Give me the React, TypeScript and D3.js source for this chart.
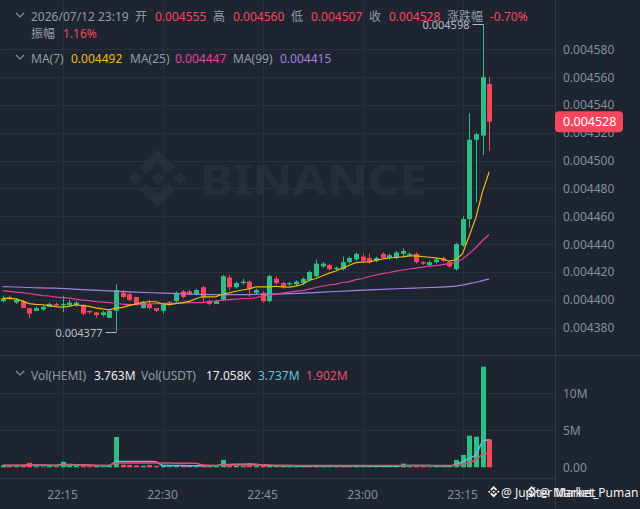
import { useEffect, useRef } from "react";
import * as d3 from "d3";

const W = 640;
const H = 509;
const PLOT_R = 555;
const MAIN_BOTTOM = 355;
const VOL_BOTTOM = 478;

const BG = "#1e2530";
const GRID = "#28303b";
const SEP = "#323a46";
const AXIS_TEXT = "#848e9c";
const LABEL = "#929aa5";
const UP = "#2ebd85";
const DOWN = "#f6465d";
const MA7_COLOR = "#f0b90b";
const MA25_COLOR = "#e23f9f";
const MA99_COLOR = "#a57de6";
const VOL_FAST_COLOR = "#5ec1d8";
const VOL_SLOW_COLOR = "#e84a6c";
const FONT = "'Noto Sans', 'Noto Sans CJK SC', sans-serif";

// one candle per minute, 22:06 .. 23:19; prices in 1e-6 USDT
const START = new Date(2026, 6, 12, 22, 6);
const open = [
  4399, 4402, 4398, 4399, 4394, 4392, 4393, 4395, 4397, 4396, 4396, 4396, 4396, 4392, 4391, 4389, 4387, 4392,
  4405, 4404, 4402, 4394, 4397, 4394, 4392, 4397, 4399, 4406, 4406, 4404, 4409, 4399, 4397, 4400, 4416, 4409,
  4412, 4413, 4405, 4405, 4399, 4415, 4412, 4411, 4411, 4412, 4414, 4417, 4424, 4425, 4422, 4422, 4427, 4429,
  4431, 4430, 4428, 4433, 4430, 4430, 4433, 4432, 4433, 4427, 4425, 4427, 4430, 4427, 4422, 4439, 4458, 4515,
  4518, 4555,
];
const high = [
  4403, 4403, 4401, 4400, 4394, 4395, 4396, 4398, 4398, 4403, 4400, 4399, 4397, 4392, 4391, 4392, 4393, 4411,
  4407, 4405, 4402, 4399, 4400, 4394, 4397, 4399, 4406, 4407, 4407, 4408, 4410, 4400, 4400, 4418, 4418, 4413,
  4415, 4414, 4408, 4406, 4418, 4417, 4413, 4413, 4414, 4416, 4421, 4429, 4427, 4426, 4424, 4431, 4431, 4434,
  4433, 4433, 4431, 4434, 4433, 4435, 4437, 4434, 4434, 4428, 4428, 4430, 4431, 4428, 4441, 4460, 4534, 4520,
  4598, 4560,
];
const low = [
  4398, 4400, 4397, 4394, 4387, 4392, 4392, 4395, 4395, 4391, 4396, 4395, 4389, 4390, 4387, 4388, 4387, 4377,
  4401, 4399, 4396, 4394, 4393, 4391, 4390, 4396, 4398, 4401, 4404, 4403, 4398, 4396, 4397, 4399, 4407, 4408,
  4411, 4402, 4404, 4398, 4398, 4411, 4408, 4410, 4410, 4411, 4413, 4416, 4423, 4421, 4421, 4421, 4426, 4428,
  4427, 4426, 4427, 4429, 4429, 4429, 4431, 4431, 4426, 4425, 4424, 4426, 4427, 4423, 4421, 4438, 4452, 4470,
  4504, 4507,
];
const close = [
  4401, 4401, 4400, 4394, 4390, 4394, 4395, 4397, 4396, 4397, 4398, 4398, 4390, 4391, 4389, 4391, 4392, 4407,
  4402, 4400, 4397, 4398, 4394, 4392, 4397, 4398, 4405, 4402, 4404, 4407, 4402, 4397, 4399, 4417, 4409, 4412,
  4413, 4408, 4407, 4399, 4417, 4412, 4409, 4412, 4413, 4415, 4420, 4426, 4426, 4422, 4423, 4427, 4430, 4433,
  4428, 4427, 4430, 4430, 4432, 4434, 4435, 4433, 4427, 4426, 4427, 4429, 4428, 4424, 4440, 4458, 4515, 4519,
  4560, 4528,
];
// volume in millions HEMI
const volume = [
  0.25, 0.2, 0.15, 0.3, 0.6, 0.15, 0.1, 0.2, 0.15, 0.75, 0.3, 0.2, 0.25, 0.15, 0.2, 0.1, 0.2, 4.1,
  0.35, 0.3, 0.25, 0.2, 0.3, 0.2, 0.25, 0.15, 0.25, 0.2, 0.2, 0.15, 0.3, 0.2, 0.15, 1.0, 0.3, 0.2,
  0.15, 0.55, 0.2, 0.3, 0.35, 0.2, 0.25, 0.1, 0.1, 0.15, 0.2, 0.3, 0.15, 0.2, 0.1, 0.25, 0.15, 0.2,
  0.15, 0.2, 0.1, 0.15, 0.1, 0.2, 0.5, 0.15, 0.25, 0.15, 0.1, 0.15, 0.1, 0.2, 1.0, 1.66, 4.27, 4.14,
  13.6, 3.763,
];

// moving averages
const ma25 = [
  4406.6, 4406.1, 4405.5, 4405.2, 4404.5, 4403.7, 4403.0, 4402.7, 4401.9, 4401.6, 4401.2, 4400.5, 4399.8,
  4399.4, 4398.7, 4398.3, 4398.0, 4397.3, 4396.9, 4396.5, 4396.5, 4396.9, 4396.9, 4397.3, 4397.3, 4397.6,
  4397.6, 4397.6, 4398.0, 4398.0, 4398.0, 4398.7, 4399.1, 4399.8, 4400.1, 4400.5, 4400.9, 4400.9, 4401.6,
  4402.7, 4403.4, 4404.1, 4404.8, 4405.5, 4406.2, 4406.6, 4407.7, 4408.8, 4409.9, 4410.6, 4411.3, 4412.4,
  4413.1, 4414.5, 4415.3, 4416.7, 4417.8, 4418.8, 4419.6, 4420.6, 4421.4, 4422.1, 4422.8, 4423.5, 4424.2,
  4424.6, 4425.3, 4426.0, 4426.8, 4429.3, 4433.2, 4437.6, 4442.6, 4446.9,
];
const ma99Index = [0, 4, 8, 12, 16, 20, 24, 28, 32, 36, 40, 44, 48, 52, 56, 60, 64, 67, 68, 69, 70, 71, 72, 73];
const ma99Value = [
  4409.5, 4408.8, 4408.3, 4407.3, 4406.4, 4405.5, 4404.8, 4404.1, 4403.7, 4403.7, 4404.1, 4404.6, 4405.5,
  4406.4, 4407.3, 4408.1, 4408.8, 4409.5, 4409.8, 4410.6, 4411.6, 4412.6, 4413.7, 4415.0,
];
const volMaFast = [
  0.25, 0.25, 0.24, 0.25, 0.32, 0.3, 0.28, 0.27, 0.26, 0.38, 0.38, 0.36, 0.34, 0.3, 0.22, 0.2, 0.2,
  0.78, 0.8, 0.8, 0.8, 0.78, 0.78, 0.75, 0.25, 0.24, 0.24, 0.23, 0.22, 0.22, 0.23, 0.22, 0.22,
  0.38, 0.38, 0.4, 0.4, 0.4, 0.4, 0.32, 0.24, 0.22, 0.2, 0.18, 0.16, 0.15, 0.16, 0.18, 0.18, 0.18,
  0.17, 0.18, 0.18, 0.18, 0.17, 0.16, 0.15, 0.15, 0.14, 0.15, 0.24, 0.24, 0.24, 0.24, 0.24, 0.18,
  0.16, 0.15, 0.35, 0.75, 1.2, 1.65, 3.55, 3.737,
];
const volMaSlow = [
  0.28, 0.28, 0.28, 0.28, 0.3, 0.3, 0.3, 0.29, 0.28, 0.32, 0.32, 0.31, 0.3, 0.3, 0.29, 0.27, 0.27,
  0.55, 0.57, 0.58, 0.58, 0.58, 0.58, 0.58, 0.58, 0.57, 0.55, 0.55, 0.55, 0.55, 0.3, 0.28, 0.25,
  0.3, 0.3, 0.31, 0.31, 0.32, 0.32, 0.3, 0.3, 0.28, 0.27, 0.27, 0.26, 0.25, 0.25, 0.25, 0.25, 0.25,
  0.25, 0.25, 0.25, 0.24, 0.24, 0.24, 0.24, 0.24, 0.24, 0.25, 0.25, 0.25, 0.25, 0.25, 0.25, 0.25,
  0.24, 0.24, 0.25, 0.35, 0.65, 1.0, 1.8, 1.902,
];

const timeTicks = ["22:15", "22:30", "22:45", "23:00", "23:15"];
const priceTicks = [4380, 4400, 4420, 4440, 4460, 4480, 4500, 4520, 4540, 4560, 4580];
const volTicks = [0, 5, 10];
const volTickLabels = ["0.00", "5M", "10M"];

const BINANCE_LOGO =
  "M38.73 53.2l24.59-24.58 24.6 24.6 14.3-14.31L63.32 0 24.42 38.9l14.31 14.3zM0 63.31l14.3-14.31 14.31 14.31-14.31 14.3L0 63.31zm38.73 10.11l24.59 24.59 24.6-24.6 14.31 14.29-38.9 38.91-38.91-38.88-.02-.02 14.33-14.29zm59.66-10.1l14.3-14.31 14.32 14.31-14.31 14.31-14.31-14.31zM77.83 63.3L63.32 48.78 52.59 59.51l-1.24 1.23-2.54 2.54-.02.02.02.03 14.51 14.5 14.51-14.52.01-.01-.01-.01z";

const fmt = (v: number) => (v / 1e6).toFixed(6);

export default function App() {
  const svgRef = useRef<SVGSVGElement>(null);

  useEffect(() => {
    if (!svgRef.current) return;
    const svg = d3.select(svgRef.current);
    svg.selectAll("*").remove();

    const parseTime = d3.timeParse("%Y-%m-%d %H:%M");
    const candles = close.map((c, i) => ({
      i,
      t: d3.timeMinute.offset(START, i),
      o: open[i],
      h: high[i],
      l: low[i],
      c,
      v: volume[i],
    }));

    const x = d3
      .scaleTime()
      .domain([START, d3.timeMinute.offset(START, candles.length - 1)])
      .range([2.5, 489.2]);
    const yP = d3.scaleLinear().domain([4380, 4580]).range([327.6, 49.3]);
    const yV = d3.scaleLinear().domain([0, 10]).range([467.3, 393.3]);
    const cx = (d: { t: Date }) => Math.round(x(d.t));

    svg.append("rect").attr("width", W).attr("height", H).attr("fill", BG);

    // watermark
    const wm = svg.append("g").attr("fill", "#272e3a");
    wm.append("path").attr("d", BINANCE_LOGO).attr("transform", "translate(128.5,149.5) scale(0.458)");
    wm.append("text")
      .attr("x", 200)
      .attr("y", 195)
      .attr("font-family", FONT)
      .attr("font-size", 42)
      .attr("font-weight", 700)
      .attr("textLength", 227)
      .attr("lengthAdjust", "spacingAndGlyphs")
      .text("BINANCE");

    // grid
    const grid = svg.append("g").attr("stroke", GRID).attr("stroke-width", 1);
    priceTicks.forEach((p) => {
      const y = Math.round(yP(p)) + 0.5;
      grid.append("line").attr("x1", 0).attr("x2", PLOT_R).attr("y1", y).attr("y2", y);
    });
    volTicks.slice(1).forEach((v) => {
      const y = Math.round(yV(v)) + 0.5;
      grid.append("line").attr("x1", 0).attr("x2", PLOT_R).attr("y1", y).attr("y2", y);
    });
    const tickDates = timeTicks.map((t) => parseTime("2026-07-12 " + t) as Date);
    tickDates.forEach((t) => {
      const xx = Math.round(x(t)) + 0.5;
      grid.append("line").attr("x1", xx).attr("x2", xx).attr("y1", 0).attr("y2", VOL_BOTTOM);
    });

    // separators
    const sep = svg.append("g").attr("stroke", SEP).attr("stroke-width", 1);
    sep.append("line").attr("x1", 0).attr("x2", W).attr("y1", MAIN_BOTTOM + 0.5).attr("y2", MAIN_BOTTOM + 0.5);
    sep.append("line").attr("x1", 0).attr("x2", PLOT_R).attr("y1", VOL_BOTTOM + 0.5).attr("y2", VOL_BOTTOM + 0.5);
    sep.append("line").attr("x1", PLOT_R + 0.5).attr("x2", PLOT_R + 0.5).attr("y1", 0).attr("y2", H);

    // volume bars
    svg.append("g")
      .selectAll("rect")
      .data(candles)
      .join("rect")
      .attr("x", (d) => cx(d) - 2)
      .attr("width", 5)
      .attr("y", (d) => yV(d.v))
      .attr("height", (d) => yV(0) - yV(d.v))
      .attr("fill", (d) => (d.c >= d.o ? UP : DOWN));

    const volLine = d3
      .line<number>()
      .x((_, i) => x(candles[i].t))
      .y((v) => yV(v));
    svg.append("path").datum(volMaFast).attr("d", volLine).attr("fill", "none").attr("stroke", VOL_FAST_COLOR).attr("stroke-width", 1.5);
    svg.append("path").datum(volMaSlow).attr("d", volLine).attr("fill", "none").attr("stroke", VOL_SLOW_COLOR).attr("stroke-width", 1.5);

    // candles
    const cg = svg.append("g");
    cg.selectAll("line")
      .data(candles)
      .join("line")
      .attr("x1", (d) => cx(d) + 0.5)
      .attr("x2", (d) => cx(d) + 0.5)
      .attr("y1", (d) => yP(d.h))
      .attr("y2", (d) => yP(d.l))
      .attr("stroke", (d) => (d.c >= d.o ? UP : DOWN))
      .attr("stroke-width", 1);
    cg.selectAll("rect")
      .data(candles)
      .join("rect")
      .attr("x", (d) => cx(d) - 2)
      .attr("width", 5)
      .attr("y", (d) => yP(Math.max(d.o, d.c)))
      .attr("height", (d) => Math.max(1, Math.abs(yP(d.o) - yP(d.c))))
      .attr("fill", (d) => (d.c >= d.o ? UP : DOWN));

    // price moving averages
    const ma7 = close.map((_, i) => d3.mean(close.slice(Math.max(0, i - 6), i + 1)) as number);
    const maLine = d3
      .line<number>()
      .x((_, i) => x(candles[i].t))
      .y((v) => yP(v));
    svg.append("path").datum(ma99Value).attr("fill", "none").attr("stroke", MA99_COLOR).attr("stroke-width", 1.2)
      .attr("d", d3.line<number>().x((_, k) => x(candles[ma99Index[k]].t)).y((v) => yP(v)).curve(d3.curveMonotoneX));
    svg.append("path").datum(ma25).attr("d", maLine).attr("fill", "none").attr("stroke", MA25_COLOR).attr("stroke-width", 1.2);
    svg.append("path").datum(ma7).attr("d", maLine).attr("fill", "none").attr("stroke", MA7_COLOR).attr("stroke-width", 1.2);

    // high / low markers
    const hiIdx = d3.maxIndex(high);
    const loIdx = d3.minIndex(low);
    const marks = svg.append("g").attr("font-family", FONT).attr("font-size", 11).attr("fill", "#b7bdc6");
    const hx = cx(candles[hiIdx]) + 0.5;
    const hy = Math.round(yP(high[hiIdx])) + 0.5;
    marks.append("line").attr("x1", hx - 11).attr("x2", hx).attr("y1", hy).attr("y2", hy).attr("stroke", "#b7bdc6");
    marks.append("text").attr("x", hx - 14).attr("y", hy + 4).attr("text-anchor", "end").text(fmt(high[hiIdx]));
    const lx = cx(candles[loIdx]) + 0.5;
    const ly = Math.round(yP(low[loIdx])) + 0.5;
    marks.append("line").attr("x1", lx - 11).attr("x2", lx).attr("y1", ly).attr("y2", ly).attr("stroke", "#b7bdc6");
    marks.append("text").attr("x", lx - 14).attr("y", ly + 4).attr("text-anchor", "end").text(fmt(low[loIdx]));

    // axes
    const ax = svg.append("g").attr("font-family", FONT).attr("font-size", 12).attr("fill", AXIS_TEXT);
    priceTicks.forEach((p) => {
      ax.append("text").attr("x", 563).attr("y", yP(p) + 4.5).text(fmt(p));
    });
    volTicks.forEach((v, k) => {
      ax.append("text").attr("x", 563).attr("y", yV(v) + 4.5).text(volTickLabels[k]);
    });
    tickDates.forEach((t, k) => {
      ax.append("text").attr("x", x(t)).attr("y", 499).attr("text-anchor", "middle").text(timeTicks[k]);
    });

    // last price tag
    const last = close[close.length - 1];
    const ly2 = yP(last);
    svg.append("rect").attr("x", PLOT_R).attr("y", ly2 - 10.5).attr("width", 68).attr("height", 21).attr("rx", 4).attr("fill", DOWN);
    svg.append("text").attr("x", 563).attr("y", ly2 + 4.5).attr("font-family", FONT).attr("font-size", 12.5)
      .attr("fill", "#ffffff").text(fmt(last));

    // legends
    const lg = svg.append("g").attr("font-family", FONT).attr("font-size", 12);
    const chevron = (y: number) =>
      lg.append("path").attr("d", `M16,${y} L20,${y + 4} L24,${y}`).attr("fill", "none").attr("stroke", AXIS_TEXT).attr("stroke-width", 1.2);
    const put = (xx: number, y: number, s: string, c: string) => lg.append("text").attr("x", xx).attr("y", y).attr("fill", c).text(s);
    const lo = candles[candles.length - 1];
    chevron(13);
    put(31, 21, "2026/07/12 23:19", LABEL);
    put(135, 21, "开", LABEL);
    put(155, 21, fmt(lo.o), DOWN);
    put(213, 21, "高", LABEL);
    put(233, 21, fmt(lo.h), DOWN);
    put(291, 21, "低", LABEL);
    put(311, 21, fmt(lo.l), DOWN);
    put(369, 21, "收", LABEL);
    put(389, 21, fmt(lo.c), DOWN);
    put(447, 21, "涨跌幅", LABEL);
    put(490, 21, "-0.70%", DOWN);
    put(31, 38, "振幅", LABEL);
    put(63, 38, "1.16%", DOWN);

    chevron(55);
    put(31, 63, "MA(7)", LABEL);
    put(71, 63, fmt(ma7[ma7.length - 1]), MA7_COLOR);
    put(130, 63, "MA(25)", LABEL);
    put(175, 63, fmt(ma25[ma25.length - 1]), MA25_COLOR);
    put(233, 63, "MA(99)", LABEL);
    put(280, 63, fmt(ma99Value[ma99Value.length - 1]), MA99_COLOR);

    chevron(371);
    put(31, 380, "Vol(HEMI)", LABEL);
    put(94, 380, lo.v.toFixed(3) + "M", "#eaecef");
    put(141, 380, "Vol(USDT)", LABEL);
    put(206, 380, "17.058K", "#eaecef");
    put(258, 380, volMaFast[volMaFast.length - 1].toFixed(3) + "M", VOL_FAST_COLOR);
    put(306, 380, volMaSlow[volMaSlow.length - 1].toFixed(3) + "M", VOL_SLOW_COLOR);

    // user watermark
    const uw = svg.append("g").attr("fill", "#f0f0f0").attr("font-family", FONT).attr("font-size", 12);
    [488, 526].forEach((xx) => {
      uw.append("path").attr("d", BINANCE_LOGO).attr("transform", `translate(${xx},${486}) scale(0.09)`);
    });
    uw.append("text").attr("x", 501).attr("y", 497).text("@ Jupiter Market");
    uw.append("text").attr("x", 539).attr("y", 497).text("@ Market_Puman");
  }, []);

  return (
    <svg
      ref={svgRef}
      width={W}
      height={H}
      style={{ position: "absolute", left: 0, top: 0, display: "block" }}
    />
  );
}
